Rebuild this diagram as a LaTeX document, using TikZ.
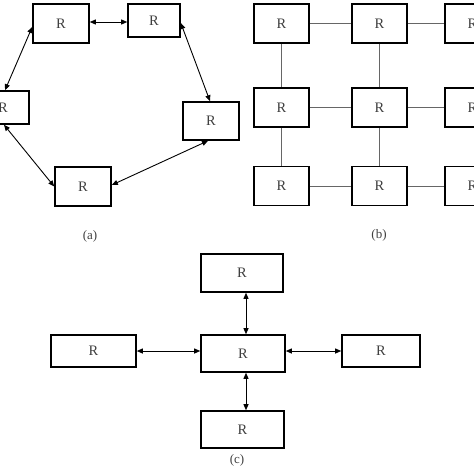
\documentclass[tikz,border=0pt]{standalone}
\usepackage{fontspec}
\setmainfont{Liberation Serif}
\usetikzlibrary{arrows.meta,calc}
\tikzset{
  rbox/.style={draw=black, line width=1.6pt, fill=white, inner sep=0pt, font=\fontsize{14.5}{14.5}\selectfont, text=black!75},
  biarrow/.style={line width=0.9pt, {Triangle[length=6pt,width=5pt]}-{Triangle[length=6pt,width=5pt]}},
  gridline/.style={line width=0.9pt, draw=black!60},
  caption/.style={font=\fontsize{13}{13}\selectfont, text=black!75}
}
\begin{document}
\begin{tikzpicture}[x=1pt,y=-1pt]
\useasboundingbox (0,0) rectangle (474,474);
\clip (0,0) rectangle (474,474);
% (a) ring
\node[rbox, minimum width=56pt, minimum height=39pt] (A1) at (61,23.5) {R};
\node[rbox, minimum width=52pt, minimum height=33pt] (A2) at (154,20.5) {R};
\node[rbox, minimum width=52pt, minimum height=33pt] (A3) at (3,107.5) {R};
\node[rbox, minimum width=56pt, minimum height=38pt] (A4) at (211,121) {R};
\node[rbox, minimum width=56pt, minimum height=39pt] (A5) at (83,186.5) {R};
\draw[biarrow] ($(A1.east)+(0,-1.5)$) -- ($(A2.west)+(0,1.5)$);
\draw[biarrow] ($(A1.west)+(0,3.5)$) -- ($(A3.north)+(2,0)$);
\draw[biarrow] ($(A2.east)+(0,2.5)$) -- ($(A4.north)+(-1,0)$);
\draw[biarrow] ($(A3.south)+(1,0)$) -- (A5.west);
\draw[biarrow] ($(A4.south)+(-3,0)$) -- ($(A5.east)+(0,-1.5)$);
\node[caption] (La) at (90,236) {(a)};
% (b) mesh
\foreach \c/\x in {1/281.5,2/379.5,3/472.5}{
  \foreach \r/\y in {1/23.5,2/107.5,3/186}{
    \node[rbox, minimum width=55pt, minimum height=39pt] (B\r\c) at (\x,\y) {R};
  }
}
\foreach \r in {1,2,3}{
  \draw[gridline] (B\r1) -- (B\r2);
  \draw[gridline] (B\r2) -- (B\r3);
}
\foreach \c in {1,2}{
  \draw[gridline] (B1\c) -- (B2\c);
  \draw[gridline] (B2\c) -- (B3\c);
}
\node[caption] (Lb) at (379,235) {(b)};
% (c) star
\node[rbox, minimum width=82pt, minimum height=38pt] (CT) at (242,273) {R};
\node[rbox, minimum width=84pt, minimum height=37pt] (CC) at (243,353.5) {R};
\node[rbox, minimum width=85pt, minimum height=32pt] (CL) at (93.5,351) {R};
\node[rbox, minimum width=78pt, minimum height=32pt] (CR) at (381,351) {R};
\node[rbox, minimum width=83pt, minimum height=37pt] (CB) at (242.5,429.5) {R};
\draw[biarrow] (CT.south -| 246,0) -- (CC.north -| 246,0);
\draw[biarrow] (CC.south -| 246,0) -- (CB.north -| 246,0);
\draw[biarrow] (CL.east) -- (CC.west |- CL.east);
\draw[biarrow] (CC.east |- CR.west) -- (CR.west);
\node[caption] (Lc) at (237,460) {(c)};
\end{tikzpicture}
\end{document}
